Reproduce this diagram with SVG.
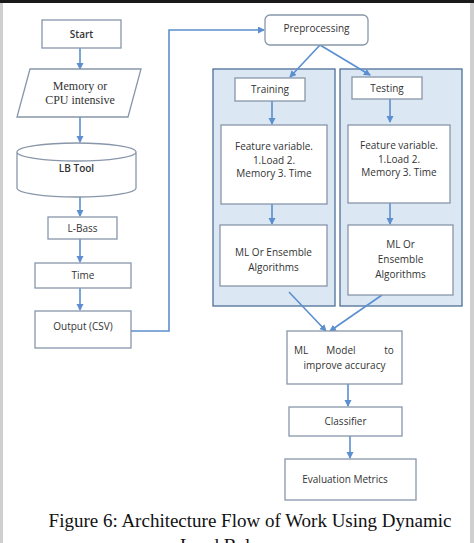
<svg xmlns="http://www.w3.org/2000/svg" width="474" height="543" viewBox="0 0 474 543">
<defs>
<marker id="ah" markerWidth="8" markerHeight="8" refX="6" refY="3.5" orient="auto" markerUnits="userSpaceOnUse">
<path d="M0,0 L7,3.5 L0,7 Z" fill="#5b8fcf"/>
</marker>
<style>
.box{fill:#fff;stroke:#8896aa;stroke-width:1.3}
.cont{fill:#dce7f4;stroke:#4f6f96;stroke-width:1.3}
.t{font-family:"Open Sans","Liberation Sans",sans-serif;font-size:10px;fill:#333;text-anchor:middle}
.b{font-weight:600}
.s{font-family:"Liberation Serif",serif;font-size:12px;fill:#333;text-anchor:middle}
.c{stroke:#5b8fcf;stroke-width:1.6;fill:none}
.a{marker-end:url(#ah)}
</style>
</defs>
<rect width="474" height="543" fill="#fff"/>
<rect x="0" y="0" width="474" height="3" fill="#1a1a1a"/>
<rect x="0" y="3" width="3" height="540" fill="#cfcfcf"/>
<rect x="470" y="3" width="4" height="540" fill="#cfcfcf"/>

<g id="containers">
<rect id="train-cont" class="cont" x="213" y="69" width="122" height="237"/>
<rect id="test-cont" class="cont" x="340" y="69" width="122" height="237"/>
</g>

<g id="connectors">
<line class="c a" x1="80" y1="48" x2="80" y2="69"/>
<line class="c a" x1="80" y1="117" x2="80" y2="142"/>
<line class="c a" x1="80" y1="193" x2="80" y2="216"/>
<line class="c a" x1="80" y1="239" x2="80" y2="262"/>
<line class="c a" x1="80" y1="288" x2="80" y2="310"/>
<polyline class="c a" points="131,331 169,331 169,30 264,30"/>
<line class="c a" x1="320" y1="45" x2="290" y2="77"/>
<line class="c a" x1="320" y1="45" x2="370" y2="75"/>
<line class="c a" x1="272" y1="101" x2="272" y2="124"/>
<line class="c a" x1="390" y1="99" x2="390" y2="122"/>
<line class="c a" x1="272" y1="204" x2="272" y2="224"/>
<line class="c a" x1="390" y1="203" x2="390" y2="224"/>
<line class="c a" x1="289" y1="292" x2="326" y2="331"/>
<line class="c a" x1="382" y1="295" x2="330" y2="331"/>
<line class="c a" x1="348" y1="384" x2="348" y2="406"/>
<line class="c a" x1="350" y1="436" x2="350" y2="458"/>
</g>

<g id="start"><rect class="box" x="42" y="20" width="79" height="28"/><text class="t b" x="81.5" y="38">Start</text></g>
<g id="memory"><polygon class="box" points="30,69 141,69 128,117 17,117"/><text class="s" x="80" y="90">Memory or</text><text class="s" x="80" y="104">CPU intensive</text></g>
<g id="lbtool"><path class="box" d="M17,152 A59.5,9 0 0 1 136,152 L136,188 A59.5,9 0 0 1 17,188 Z M17,152 A59.5,9 0 0 0 136,152"/><text class="t b" x="76.5" y="172">LB Tool</text></g>
<g id="lbass"><rect class="box" x="48" y="217" width="69" height="22"/><text class="t" x="82.5" y="232">L-Bass</text></g>
<g id="time"><rect class="box" x="35" y="263" width="96" height="25"/><text class="t" x="83" y="279">Time</text></g>
<g id="output"><rect class="box" x="35" y="311" width="96" height="37"/><text class="t" x="83" y="330">Output (CSV)</text></g>
<g id="preprocessing"><rect class="box" x="265" y="15" width="103" height="30" rx="5"/><text class="t" x="316.5" y="32">Preprocessing</text></g>
<g id="training"><rect class="box" x="235" y="78" width="70" height="23"/><text class="t" x="270" y="93">Training</text></g>
<g id="testing"><rect class="box" x="352" y="77" width="70" height="22"/><text class="t" x="387" y="92">Testing</text></g>
<g id="feat-train"><rect class="box" x="221" y="125" width="106" height="79"/><text class="t" x="274" y="150">Feature variable.</text><text class="t" x="274" y="164">1.Load 2.</text><text class="t" x="274" y="177">Memory 3. Time</text></g>
<g id="feat-test"><rect class="box" x="348" y="125" width="102" height="78"/><text class="t" x="399" y="149">Feature variable.</text><text class="t" x="399" y="163">1.Load 2.</text><text class="t" x="399" y="176">Memory 3. Time</text></g>
<g id="ml-train"><rect class="box" x="220" y="225" width="107" height="61"/><text class="t" x="273.5" y="256">ML Or Ensemble</text><text class="t" x="273.5" y="271">Algorithms</text></g>
<g id="ml-test"><rect class="box" x="348" y="225" width="105" height="70"/><text class="t" x="400.5" y="248">ML Or</text><text class="t" x="400.5" y="263">Ensemble</text><text class="t" x="400.5" y="278">Algorithms</text></g>
<g id="mlmodel"><rect class="box" x="287" y="331" width="115" height="53"/><text class="t" y="354"><tspan x="301">ML</tspan><tspan x="341">Model</tspan><tspan x="389">to</tspan></text><text class="t" x="344.5" y="369">improve accuracy</text></g>
<g id="classifier"><rect class="box" x="289" y="407" width="113" height="29"/><text class="t" x="345.5" y="425">Classifier</text></g>
<g id="evaluation"><rect class="box" x="285" y="459" width="131" height="41"/><text class="t" x="345" y="483">Evaluation Metrics</text></g>

<g id="caption">
<text x="250" y="527" font-family="Liberation Serif,serif" font-size="19" fill="#111" text-anchor="middle">Figure 6: Architecture Flow of Work Using Dynamic</text>
<text x="180" y="552" font-family="Liberation Serif,serif" font-size="19" fill="#111">Load Balancer</text>
</g>
</svg>
